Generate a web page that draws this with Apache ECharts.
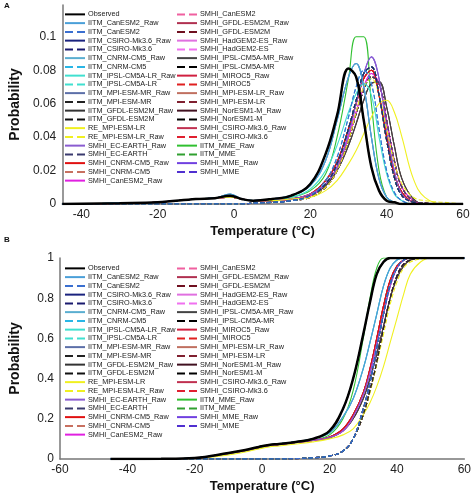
<!DOCTYPE html>
<html>
<head>
<meta charset="utf-8">
<script src="https://cdn.jsdelivr.net/npm/echarts@6/dist/echarts.min.js"></script>
<style>html,body{margin:0;padding:0;background:#fff}#chart{width:474px;height:503px}</style>
</head>
<body>
<div id="chart"></div>
<script>
// temperature grid (°C) shared by all curves
var temps = [-45,-30,-20,-10,-5,-1,2,5,10,15,20,24,27,30,32,34,36,38,40,42,44,47,50,55,60];

// PDF shapes
var pdfShapes = [
	[0,0.0005,0.001,0.003,0.0035,0.005,0.003,0.002,0.003,0.005,0.012,0.03,0.053,0.081,0.076,0.05,0.022,0.008,0.002,0.001,0,0,0,0,0],
	[0,0.0005,0.001,0.003,0.0035,0.006,0.003,0.002,0.003,0.005,0.011,0.026,0.05,0.076,0.084,0.07,0.04,0.015,0.004,0.001,0,0,0,0,0],
	[0,0.0005,0.001,0.003,0.0035,0.005,0.003,0.002,0.002,0.004,0.008,0.018,0.04,0.075,0.1,0.1,0.06,0.02,0.004,0.001,0,0,0,0,0],
	[0,0.0005,0.001,0.003,0.0035,0.005,0.003,0.002,0.003,0.004,0.009,0.02,0.035,0.055,0.066,0.072,0.065,0.04,0.018,0.006,0.002,0,0,0,0],
	[0,0.0003,0.001,0.003,0.0035,0.004,0.003,0.002,0.002,0.003,0.006,0.014,0.025,0.045,0.06,0.075,0.08,0.065,0.04,0.018,0.007,0.001,0,0,0],
	[0,0.0003,0.001,0.003,0.0035,0.004,0.003,0.002,0.002,0.003,0.006,0.012,0.022,0.042,0.06,0.078,0.088,0.075,0.045,0.02,0.006,0.001,0,0,0],
	[0,0.0003,0.001,0.003,0.0035,0.004,0.003,0.002,0.002,0.003,0.005,0.011,0.02,0.035,0.048,0.062,0.072,0.073,0.058,0.035,0.015,0.003,0,0,0],
	[0,0.0003,0.001,0.003,0.0035,0.004,0.003,0.002,0.002,0.003,0.004,0.008,0.014,0.024,0.032,0.042,0.052,0.06,0.062,0.055,0.04,0.015,0.004,0,0],
	[0,0.0003,0.001,0.003,0.0035,0.004,0.003,0.002,0.002,0.003,0.005,0.012,0.022,0.04,0.055,0.07,0.078,0.072,0.05,0.026,0.01,0.002,0,0,0],
	// bias-corrected
	[0,0,0,0,0,0,0,0.0005,0.001,0.002,0.005,0.012,0.024,0.045,0.062,0.078,0.082,0.065,0.038,0.016,0.005,0.001,0,0,0],
	[0,0,0,0,0,0,0,0.0005,0.001,0.002,0.004,0.01,0.02,0.038,0.054,0.068,0.076,0.072,0.05,0.026,0.01,0.002,0.0005,0,0],
	[0,0,0,0,0,0,0,0.0005,0.001,0.002,0.005,0.014,0.028,0.052,0.07,0.08,0.072,0.045,0.02,0.007,0.002,0,0,0,0],
	[0,0,0,0,0,0,0,0.0005,0.001,0.002,0.004,0.01,0.02,0.038,0.055,0.07,0.075,0.065,0.045,0.025,0.012,0.004,0.002,0.001,0]
];

// CDF shapes
var cdfShapes = [
	[0,0.001,0.005,0.03,0.045,0.06,0.07,0.075,0.085,0.1,0.14,0.25,0.4,0.62,0.78,0.92,0.98,1,1,1,1,1,1,1,1],
	[0,0.001,0.004,0.025,0.04,0.055,0.065,0.072,0.082,0.095,0.12,0.2,0.34,0.6,0.8,0.95,1,1,1,1,1,1,1,1,1],
	[0,0.001,0.005,0.03,0.045,0.06,0.07,0.075,0.085,0.1,0.13,0.21,0.3,0.45,0.58,0.72,0.86,0.95,0.99,1,1,1,1,1,1],
	[0,0.001,0.004,0.028,0.042,0.058,0.068,0.072,0.082,0.092,0.11,0.15,0.22,0.33,0.45,0.6,0.76,0.89,0.96,0.99,1,1,1,1,1],
	[0,0.001,0.004,0.028,0.042,0.058,0.068,0.072,0.082,0.092,0.105,0.14,0.2,0.3,0.4,0.52,0.66,0.8,0.9,0.96,0.99,1,1,1,1],
	[0,0.001,0.003,0.02,0.035,0.05,0.06,0.065,0.075,0.085,0.1,0.12,0.15,0.22,0.28,0.36,0.46,0.58,0.7,0.82,0.92,0.98,1,1,1],
	[0,0.001,0.004,0.028,0.042,0.058,0.068,0.072,0.082,0.092,0.108,0.14,0.21,0.32,0.43,0.57,0.72,0.86,0.95,0.99,1,1,1,1,1],
	// bias-corrected
	[0,0,0,0,0,0,0,0,0.002,0.006,0.015,0.04,0.1,0.25,0.38,0.55,0.72,0.87,0.95,0.99,1,1,1,1,1],
	[0,0,0,0,0,0,0,0,0.002,0.006,0.015,0.04,0.1,0.22,0.34,0.48,0.65,0.8,0.91,0.97,0.99,1,1,1,1],
	[0,0,0,0,0,0,0,0,0.002,0.006,0.015,0.04,0.1,0.22,0.33,0.47,0.62,0.77,0.88,0.95,0.98,0.995,1,1,1]
];

var names = ["Observed","IITM_CanESM2_Raw","IITM_CanESM2","IITM_CSIRO-Mk3.6_Raw","IITM_CSIRO-Mk3.6","IITM_CNRM-CM5_Raw","IITM_CNRM-CM5",
	"IITM_IPSL-CM5A-LR_Raw","IITM_IPSL-CM5A-LR","IITM_MPI-ESM-MR_Raw","IITM_MPI-ESM-MR","IITM_GFDL-ESM2M_Raw","IITM_GFDL-ESM2M",
	"RE_MPI-ESM-LR","RE_MPI-ESM-LR_Raw","SMHI_EC-EARTH_Raw","SMHI_EC-EARTH","SMHI_CNRM-CM5_Raw","SMHI_CNRM-CM5","SMHI_CanESM2_Raw",
	"SMHI_CanESM2","SMHI_GFDL-ESM2M_Raw","SMHI_GFDL-ESM2M","SMHI_HadGEM2-ES_Raw","SMHI_HadGEM2-ES","SMHI_IPSL-CM5A-MR_Raw","SMHI_IPSL-CM5A-MR",
	"SMHI_MIROC5_Raw","SMHI_MIROC5","SMHI_MPI-ESM-LR_Raw","SMHI_MPI-ESM-LR","SMHI_NorESM1-M_Raw","SMHI_NorESM1-M","SMHI_CSIRO-Mk3.6_Raw",
	"SMHI_CSIRO-Mk3.6","IITM_MME_Raw","IITM_MME","SMHI_MME_Raw","SMHI_MME"];
var colors = ["#000","#4a9fd8","#3a6fd0","#1a237e","#1a1a6e","#5aaed0","#29b6e6","#40e0d0","#40e0d0","#5c6fa8","#222","#333","#111",
	"#f0f020","#f0f020","#8a5cd0","#3a3a6e","#e01010","#c87060","#e020e0","#f060a0","#b03050","#701020","#e070e0","#f070f0",
	"#444","#000","#d02040","#e02020","#c07060","#802030","#401020","#000","#c03050","#e02030","#30c030","#30a030","#7040e0","#5030d0"];
var dashed = [0,0,1,0,1,0,1,0,1,0,1,0,1,0,1,0,1,0,1,0,1,0,1,0,1,0,1,0,1,0,1,0,1,0,1,0,1,0,1];
var pdfPick = [0,1,11,0,9,1,11,3,9,1,9,0,9,7,12,5,10,4,10,8,9,4,10,8,9,6,10,4,9,4,10,6,10,4,9,2,9,5,10];
var cdfPick = [0,2,7,0,7,2,7,2,7,0,8,0,7,5,9,6,8,3,8,6,7,3,8,6,7,4,8,3,7,3,8,4,8,3,7,1,7,6,8];

var chart = echarts.init(document.getElementById('chart'));
var font = 'Liberation Sans, Arial, sans-serif';

function pairs(arr){
	return temps.map(function(t,i){return [t,arr[i]];});
}

var series = [];
for(var p=0;p<2;p++){
	for(var i=names.length-1;i>=0;i--){
		series.push({
			name:names[i], type:'line', smooth:0.4, symbol:'none', xAxisIndex:p, yAxisIndex:p,
			data: p==0 ? pairs(pdfShapes[pdfPick[i]]) : pairs(cdfShapes[cdfPick[i]]),
			lineStyle:{color:colors[i], width:i==0?2.5:1.1, type:dashed[i]?'dashed':'solid'},
			itemStyle:{color:colors[i]}, z:i==0?3:2
		});
	}
}

function legendCol(list,left,top){
	return {orient:'vertical', left:left, top:top, data:list, itemWidth:20, itemHeight:5, itemGap:0,
		padding:0, selectedMode:false, itemStyle:{opacity:0},
		textStyle:{fontSize:7.3, lineHeight:8.75, height:8.75, fontFamily:font, color:'#222', padding:[0,0,0,-2]}};
}
var leftNames = names.slice(0,20), rightNames = names.slice(20);

function xAx(idx,min){
	return {type:'value', gridIndex:idx, min:min, max:60, interval:5,
		name:'Temperature (°C)', nameLocation:'middle', nameGap:21,
		nameTextStyle:{fontSize:13, fontWeight:'bold', fontFamily:font, color:'#111'},
		axisLine:{onZero:false, lineStyle:{color:'#777', width:1.5}}, axisTick:{show:false}, splitLine:{show:false},
		axisLabel:{fontSize:12, fontFamily:font, color:'#222', margin:5,
			formatter:function(v){return v%20==0?String(v):'';}}};
}
function yAx(idx,max,interval){
	return {type:'value', gridIndex:idx, min:0, max:max, interval:interval,
		name:'Probability', nameLocation:'middle', nameGap:38,
		nameTextStyle:{fontSize:14, fontWeight:'bold', fontFamily:font, color:'#111'},
		axisLine:{show:true, onZero:false, lineStyle:{color:'#777', width:1.5}}, axisTick:{show:false}, splitLine:{show:false},
		axisLabel:{fontSize:12, fontFamily:font, color:'#222', margin:6, showMaxLabel:interval==0.2}};
}

chart.setOption({
	animation:false,
	graphic:[
		{type:'text', left:4, top:2, style:{text:'A', font:'bold 8px '+font, fill:'#111'}},
		{type:'text', left:4, top:236, style:{text:'B', font:'bold 8px '+font, fill:'#111'}}
	],
	legend:[legendCol(leftNames,64,10), legendCol(rightNames,176,10), legendCol(leftNames,64,264), legendCol(rightNames,176,264)],
	grid:[{left:57, width:406, top:5, height:199}, {left:56, width:410, top:258, height:201}],
	xAxis:[xAx(0,-45), xAx(1,-60)],
	yAxis:[yAx(0,0.119,0.02), yAx(1,1,0.2)],
	series:series
});
</script>
</body>
</html>
